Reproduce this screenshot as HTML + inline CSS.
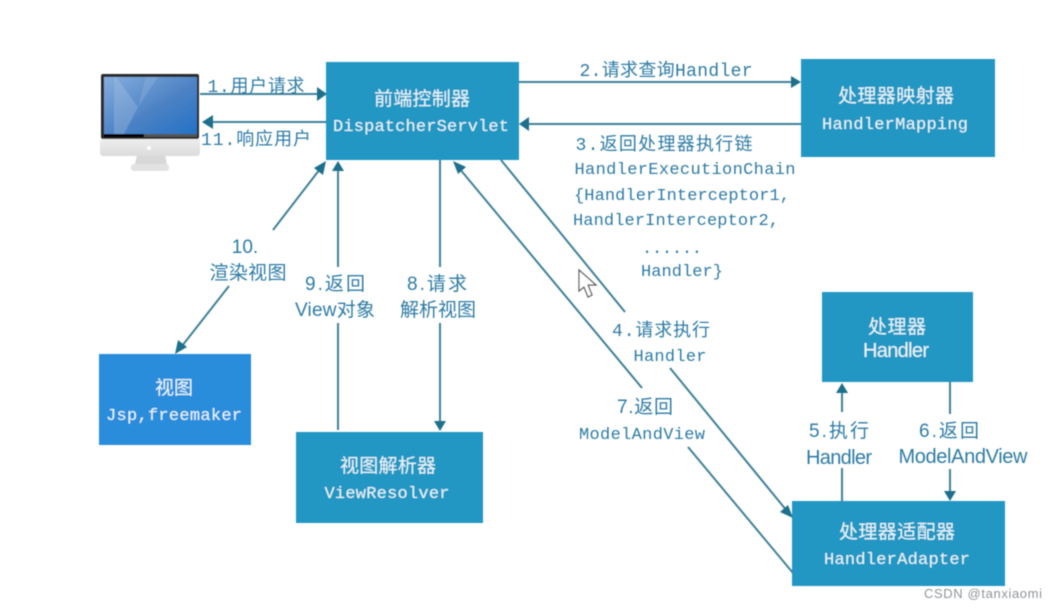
<!DOCTYPE html>
<html>
<head>
<meta charset="utf-8">
<style>
html,body{margin:0;padding:0;background:#fff;width:1057px;height:608px;overflow:hidden}
svg{display:block}
text{font-family:"Liberation Sans","Noto Sans CJK SC",sans-serif}
.m{font-family:"Liberation Mono","Noto Sans CJK SC",monospace}
.w{fill:#e8f6fb;text-anchor:middle}
.b{fill:#2f7ba6;text-anchor:middle}
.l{stroke:#3f8199;stroke-width:2;fill:none}
.a{fill:#1f6f8c}
.box{fill:#2297c3}
</style>
</head>
<body>
<svg width="1057" height="608" viewBox="0 0 1057 608" xmlns="http://www.w3.org/2000/svg">
<defs>
<linearGradient id="scr" x1="0" y1="0" x2="1" y2="1">
<stop offset="0" stop-color="#86aedd"/><stop offset=".55" stop-color="#4c82c4"/><stop offset="1" stop-color="#2272c6"/>
</linearGradient>
<linearGradient id="sil" x1="0" y1="0" x2="0" y2="1">
<stop offset="0" stop-color="#eeeeee"/><stop offset="1" stop-color="#dcdcdc"/>
</linearGradient>
<filter id="s" x="-5%" y="-5%" width="110%" height="110%"><feGaussianBlur stdDeviation="0.5"/></filter>
</defs>
<g filter="url(#s)">
<!-- boxes -->
<rect class="box" x="326" y="62" width="193" height="98"/>
<rect class="box" x="801" y="59" width="194" height="98"/>
<rect class="box" x="822" y="292" width="151" height="90"/>
<rect class="box" x="792" y="501" width="213" height="85"/>
<rect class="box" x="296" y="432" width="187" height="91"/>
<rect x="99" y="354" width="152" height="91" fill="#2a8ddb"/>

<!-- iMac -->
<path d="M137 155h28l2 9h-32z" fill="#d8d8d8"/>
<rect x="131" y="164" width="38" height="7" rx="3" fill="#e2e2e2"/>
<rect x="100" y="138" width="100" height="18" rx="3" fill="url(#sil)"/>
<circle cx="149" cy="148" r="2" fill="#fff"/>
<rect x="101" y="74" width="98" height="65" rx="2" fill="#2a2a2a"/>
<rect x="104" y="77" width="93" height="57" fill="url(#scr)"/>
<path d="M116 77l22 30-14 27h-10V77z" fill="#a8c4e6" opacity=".35"/>
<path d="M138 107l8-30h12z" fill="#9bbce2" opacity=".3"/>
<rect x="104" y="134" width="40" height="3" fill="#000"/>
<rect x="144" y="134" width="53" height="3" fill="#555"/>

<!-- connectors -->
<path class="l" d="M200 94H318"/><path class="a" d="M317 87l10 7-10 7z"/>
<path class="l" d="M326 122H212"/><path class="a" d="M213 115l-11 7 11 7z"/>
<path class="l" d="M519 82H793"/><path class="a" d="M791 76l10 6-10 6z"/>
<path class="l" d="M801 124H528"/><path class="a" d="M529 117l-10 7 10 7z"/>

<path class="l" d="M273 230L320 169"/><path class="a" d="M326 161l-3 14-9-7z"/>
<path class="l" d="M229 286L182 346"/><path class="a" d="M175 354l3-14 9 7z"/>

<path class="l" d="M338 170V267M338 323V430"/><path class="a" d="M338 161l6 10h-12z"/>
<path class="l" d="M440 160V267M440 323V422"/><path class="a" d="M440 431l-6-10h12z"/>

<path class="l" d="M459 168L642 388M688 447L793 573"/><path class="a" d="M453 161l13 6-8 7z"/>
<path class="l" d="M501 160L625 312M670 368L787 511"/><path class="a" d="M793 518l-13-6 8-7z"/>

<path class="l" d="M842 501V468M842 412V392"/><path class="a" d="M842 383l6 10h-12z"/>
<path class="l" d="M950 382V414M950 469V492"/><path class="a" d="M950 501l-6-10h12z"/>

<!-- box text -->
<text class="w" x="422" y="105" font-size="19" textLength="96">前端控制器</text>
<text class="w m" x="421" y="131" font-size="17" textLength="176">DispatcherServlet</text>
<text class="w" x="896" y="102" font-size="19" textLength="116">处理器映射器</text>
<text class="w m" x="895" y="129" font-size="17" textLength="146">HandlerMapping</text>
<text class="w" x="897" y="333" font-size="19" textLength="58">处理器</text>
<text class="w" x="896" y="357" font-size="20" textLength="66">Handler</text>
<text class="w" x="897" y="538" font-size="19" textLength="116">处理器适配器</text>
<text class="w m" x="897" y="564" font-size="17" textLength="146">HandlerAdapter</text>
<text class="w" x="388" y="472" font-size="19" textLength="96">视图解析器</text>
<text class="w m" x="387" y="498" font-size="17" textLength="125">ViewResolver</text>
<text class="w" x="174" y="394" font-size="19" textLength="38">视图</text>
<text class="w m" x="174" y="420" font-size="17" textLength="136">Jsp,freemaker</text>

<!-- labels -->
<text class="b m" x="256" y="92" font-size="18" textLength="97">1.用户请求</text>
<text class="b m" x="256" y="145" font-size="18" textLength="110">11.响应用户</text>
<text class="b m" x="666" y="76" font-size="18" textLength="173">2.请求查询Handler</text>
<text class="b m" x="664" y="150" font-size="18" textLength="177">3.返回处理器执行链</text>
<text class="b m" x="685" y="174" font-size="17" textLength="221">HandlerExecutionChain</text>
<text class="b m" x="682" y="200" font-size="17" textLength="216">{HandlerInterceptor1,</text>
<text class="b m" x="676" y="225" font-size="17" textLength="206">HandlerInterceptor2,</text>
<text class="b m" x="672" y="253" font-size="17" textLength="60">......</text>
<text class="b m" x="682" y="276" font-size="17" textLength="82">Handler}</text>
<text class="b" x="245" y="253" font-size="19">10.</text>
<text class="b" x="248" y="279" font-size="19" textLength="77">渲染视图</text>
<text class="b" x="335" y="290" font-size="19" textLength="60">9.返回</text>
<text class="b" x="335" y="316" font-size="19" textLength="80">View对象</text>
<text class="b" x="437" y="290" font-size="19" textLength="60">8.请求</text>
<text class="b" x="438" y="316" font-size="19" textLength="76">解析视图</text>
<text class="b m" x="661" y="336" font-size="18" textLength="98">4.请求执行</text>
<text class="b m" x="670" y="361" font-size="17" textLength="73">Handler</text>
<text class="b" x="645" y="413" font-size="19" textLength="56">7.返回</text>
<text class="b m" x="642" y="439" font-size="17" textLength="126">ModelAndView</text>
<text class="b" x="839" y="437" font-size="19" textLength="60">5.执行</text>
<text class="b" x="839" y="464" font-size="20" textLength="66">Handler</text>
<text class="b" x="949" y="437" font-size="19" textLength="60">6.返回</text>
<text class="b" x="963" y="463" font-size="20" textLength="129">ModelAndView</text>

<!-- cursor -->
<path d="M579 270V291L584 287L588 297L592 295L588 285L596 285Z" fill="#fff" stroke="#555" stroke-width="1.2"/>

<text x="924" y="598" font-size="13" fill="#8f9499" textLength="118">CSDN @tanxiaomi</text>
</g>
</svg>
</body>
</html>
